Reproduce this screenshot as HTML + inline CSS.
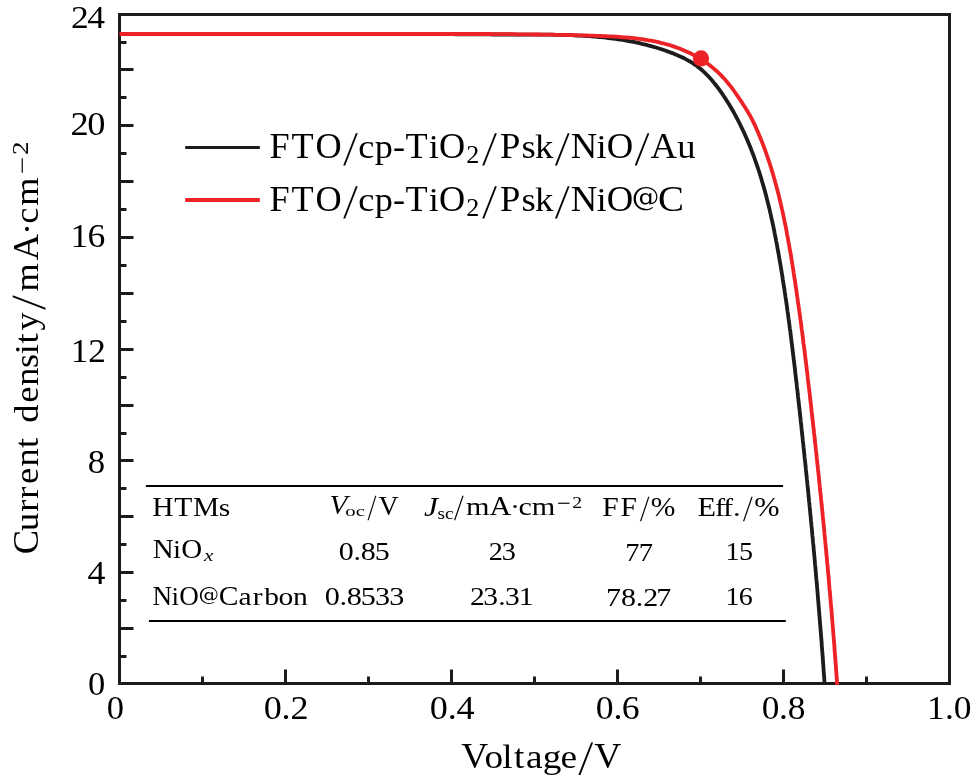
<!DOCTYPE html>
<html><head><meta charset="utf-8"><title>J-V curves</title>
<style>html,body{margin:0;padding:0;background:#fff;}svg{display:block;}</style></head>
<body>
<svg width="972" height="775" viewBox="0 0 972 775">
<rect width="972" height="775" fill="#fff"/>
<path d="M119.5,656.50H126.5M119.5,628.50H133.5M119.5,600.50H126.5M119.5,572.50H133.5M119.5,544.50H126.5M119.5,516.50H133.5M119.5,488.50H126.5M119.5,460.50H133.5M119.5,433.50H126.5M119.5,405.50H133.5M119.5,377.50H126.5M119.5,349.50H133.5M119.5,321.50H126.5M119.5,293.50H133.5M119.5,265.50H126.5M119.5,237.50H133.5M119.5,209.50H126.5M119.5,181.50H133.5M119.5,153.50H126.5M119.5,125.50H133.5M119.5,97.50H126.5M119.5,69.50H133.5M119.5,42.50H126.5M202.50,683.5V676.5M285.50,683.5V669.5M368.50,683.5V676.5M451.50,683.5V669.5M534.50,683.5V676.5M617.50,683.5V669.5M700.50,683.5V676.5M783.50,683.5V669.5M866.50,683.5V676.5" stroke="#1d1b1b" stroke-width="3" fill="none"/>
<rect x="119.5" y="14.5" width="830.0" height="669.0" fill="none" stroke="#1d1b1b" stroke-width="3"/>
<defs><clipPath id="cp"><rect x="118" y="13" width="833" height="672"/></clipPath></defs>
<g clip-path="url(#cp)" fill="none" stroke-linejoin="round" stroke-linecap="butt">
<path d="M119.5,34.2 L121.8,34.2 L124.3,34.2 L126.8,34.2 L129.2,34.2 L131.7,34.2 L134.2,34.2 L136.6,34.2 L139.1,34.2 L141.6,34.2 L144.0,34.2 L146.5,34.2 L149.0,34.2 L151.4,34.2 L153.9,34.2 L156.4,34.2 L158.8,34.2 L161.3,34.2 L163.7,34.2 L166.2,34.2 L168.7,34.2 L171.1,34.2 L173.6,34.2 L176.1,34.2 L178.5,34.2 L181.0,34.2 L183.4,34.2 L185.9,34.2 L188.4,34.2 L190.8,34.2 L193.3,34.2 L195.7,34.2 L198.2,34.2 L200.7,34.2 L203.1,34.2 L205.6,34.2 L208.0,34.2 L210.5,34.2 L212.9,34.2 L215.4,34.2 L217.9,34.2 L220.3,34.2 L222.8,34.2 L225.2,34.2 L227.7,34.2 L230.1,34.2 L232.6,34.2 L235.0,34.2 L237.5,34.2 L239.9,34.2 L242.4,34.2 L244.9,34.2 L247.3,34.2 L249.8,34.2 L252.2,34.2 L254.7,34.2 L257.1,34.2 L259.6,34.2 L262.0,34.2 L264.5,34.2 L266.9,34.2 L269.4,34.2 L271.8,34.2 L274.3,34.2 L276.7,34.2 L279.2,34.2 L281.6,34.2 L284.1,34.2 L286.5,34.2 L289.0,34.2 L291.4,34.2 L293.9,34.2 L296.4,34.2 L298.8,34.2 L301.3,34.2 L303.7,34.2 L306.2,34.2 L308.6,34.2 L311.1,34.2 L313.5,34.2 L316.0,34.2 L318.4,34.2 L320.9,34.2 L323.3,34.2 L325.8,34.2 L328.2,34.2 L330.7,34.2 L333.1,34.2 L335.6,34.2 L338.0,34.2 L340.5,34.2 L342.9,34.2 L345.4,34.2 L347.8,34.2 L350.3,34.2 L352.7,34.2 L355.2,34.2 L357.6,34.2 L360.1,34.2 L362.5,34.2 L365.0,34.2 L367.4,34.2 L369.9,34.2 L372.3,34.2 L374.8,34.2 L377.2,34.2 L379.7,34.2 L382.1,34.2 L384.6,34.2 L387.0,34.2 L389.5,34.2 L392.0,34.2 L394.4,34.2 L396.9,34.2 L399.3,34.2 L401.8,34.2 L404.2,34.2 L406.7,34.2 L409.1,34.2 L411.6,34.2 L414.0,34.2 L416.5,34.2 L418.9,34.2 L421.4,34.2 L423.9,34.2 L426.3,34.2 L428.8,34.2 L431.2,34.2 L433.7,34.2 L436.1,34.2 L438.6,34.2 L441.1,34.2 L443.5,34.2 L446.0,34.2 L448.4,34.2 L450.9,34.2 L453.3,34.2 L455.8,34.3 L458.3,34.3 L460.7,34.3 L463.2,34.3 L465.6,34.3 L468.1,34.3 L470.6,34.3 L473.0,34.3 L475.5,34.4 L477.9,34.4 L480.4,34.4 L482.9,34.4 L485.3,34.4 L487.8,34.4 L490.3,34.4 L492.7,34.5 L495.2,34.5 L497.7,34.5 L500.1,34.5 L502.6,34.5 L505.1,34.5 L507.5,34.5 L510.0,34.5 L512.5,34.6 L514.9,34.6 L517.4,34.6 L519.9,34.6 L522.3,34.6 L524.8,34.6 L527.3,34.6 L529.7,34.6 L532.2,34.6 L534.7,34.6 L537.2,34.6 L539.6,34.6 L542.1,34.6 L544.6,34.7 L547.0,34.7 L549.5,34.7 L552.0,34.7 L554.4,34.8 L556.9,34.8 L559.4,34.9 L561.8,34.9 L564.3,35.0 L566.7,35.1 L569.2,35.2 L571.7,35.2 L574.1,35.3 L576.6,35.5 L579.0,35.6 L581.5,35.7 L583.9,35.9 L586.4,36.0 L588.8,36.2 L591.3,36.3 L593.7,36.5 L596.1,36.7 L598.6,37.0 L601.0,37.2 L603.4,37.4 L605.9,37.7 L608.3,38.0 L610.7,38.3 L613.1,38.6 L615.5,38.9 L618.0,39.3 L620.4,39.6 L622.8,40.0 L625.2,40.4 L627.6,40.8 L630.0,41.3 L632.3,41.7 L634.7,42.2 L637.1,42.7 L639.5,43.2 L641.9,43.8 L644.2,44.3 L646.6,44.9 L649.0,45.6 L651.3,46.2 L653.7,46.9 L656.0,47.5 L658.3,48.3 L660.7,49.0 L663.0,49.8 L665.3,50.5 L667.6,51.4 L669.9,52.2 L672.3,53.1 L674.5,54.0 L676.8,54.9 L679.1,55.9 L681.3,56.9 L683.6,58.0 L685.7,59.1 L687.9,60.3 L690.0,61.5 L692.1,62.7 L694.1,64.1 L696.1,65.5 L698.1,66.9 L700.0,68.4 L701.8,70.0 L703.6,71.6 L705.4,73.3 L707.1,75.0 L708.8,76.8 L710.5,78.6 L712.1,80.5 L713.6,82.4 L715.2,84.3 L716.7,86.2 L718.2,88.2 L719.7,90.2 L721.1,92.2 L722.5,94.2 L723.9,96.3 L725.3,98.3 L726.6,100.4 L727.9,102.5 L729.2,104.6 L730.5,106.8 L731.8,108.9 L733.0,111.0 L734.2,113.2 L735.4,115.4 L736.6,117.6 L737.7,119.7 L738.8,121.9 L740.0,124.1 L741.0,126.4 L742.1,128.6 L743.2,130.8 L744.2,133.0 L745.2,135.3 L746.2,137.5 L747.2,139.8 L748.1,142.0 L749.1,144.3 L750.0,146.5 L750.9,148.8 L751.8,151.1 L752.7,153.4 L753.6,155.7 L754.4,158.0 L755.2,160.3 L756.0,162.6 L756.8,164.9 L757.6,167.2 L758.4,169.5 L759.2,171.8 L759.9,174.2 L760.6,176.5 L761.3,178.8 L762.0,181.2 L762.7,183.5 L763.4,185.9 L764.1,188.2 L764.7,190.6 L765.4,193.0 L766.0,195.3 L766.6,197.7 L767.2,200.1 L767.8,202.5 L768.4,204.8 L769.0,207.2 L769.6,209.6 L770.1,212.0 L770.7,214.4 L771.2,216.8 L771.7,219.2 L772.3,221.6 L772.8,224.0 L773.3,226.4 L773.8,228.8 L774.3,231.2 L774.7,233.6 L775.2,236.0 L775.7,238.4 L776.1,240.8 L776.6,243.2 L777.1,245.7 L777.5,248.1 L777.9,250.5 L778.4,252.9 L778.8,255.3 L779.2,257.8 L779.6,260.2 L780.1,262.6 L780.5,265.0 L780.9,267.4 L781.3,269.9 L781.7,272.3 L782.1,274.7 L782.5,277.1 L782.8,279.6 L783.2,282.0 L783.6,284.4 L784.0,286.9 L784.4,289.3 L784.7,291.7 L785.1,294.1 L785.4,296.6 L785.8,299.0 L786.2,301.4 L786.5,303.9 L786.9,306.3 L787.2,308.7 L787.5,311.2 L787.9,313.6 L788.2,316.0 L788.5,318.5 L788.9,320.9 L789.2,323.3 L789.5,325.8 L789.8,328.2 L790.2,330.6 L790.5,333.1 L790.8,335.5 L791.1,337.9 L791.4,340.4 L791.7,342.8 L792.0,345.2 L792.3,347.7 L792.6,350.1 L792.9,352.6 L793.2,355.0 L793.5,357.4 L793.8,359.9 L794.1,362.3 L794.4,364.8 L794.7,367.2 L795.0,369.6 L795.2,372.1 L795.5,374.5 L795.8,377.0 L796.1,379.4 L796.4,381.8 L796.7,384.3 L796.9,386.7 L797.2,389.2 L797.5,391.6 L797.8,394.0 L798.0,396.5 L798.3,398.9 L798.6,401.4 L798.8,403.8 L799.1,406.2 L799.4,408.7 L799.7,411.1 L799.9,413.6 L800.2,416.0 L800.5,418.4 L800.7,420.9 L801.0,423.3 L801.3,425.8 L801.5,428.2 L801.8,430.7 L802.0,433.1 L802.3,435.5 L802.6,438.0 L802.8,440.4 L803.1,442.9 L803.4,445.3 L803.6,447.7 L803.9,450.2 L804.1,452.6 L804.4,455.1 L804.6,457.5 L804.9,460.0 L805.2,462.4 L805.4,464.8 L805.7,467.3 L805.9,469.7 L806.2,472.2 L806.4,474.6 L806.7,477.1 L806.9,479.5 L807.2,481.9 L807.4,484.4 L807.7,486.8 L807.9,489.3 L808.2,491.7 L808.4,494.2 L808.6,496.6 L808.9,499.0 L809.1,501.5 L809.4,503.9 L809.6,506.4 L809.9,508.8 L810.1,511.3 L810.3,513.7 L810.6,516.1 L810.8,518.6 L811.0,521.0 L811.3,523.5 L811.5,525.9 L811.8,528.4 L812.0,530.8 L812.2,533.3 L812.4,535.7 L812.7,538.1 L812.9,540.6 L813.1,543.0 L813.4,545.5 L813.6,547.9 L813.8,550.4 L814.0,552.8 L814.3,555.3 L814.5,557.7 L814.7,560.2 L814.9,562.6 L815.1,565.0 L815.4,567.5 L815.6,569.9 L815.8,572.4 L816.0,574.8 L816.2,577.3 L816.4,579.7 L816.7,582.2 L816.9,584.6 L817.1,587.1 L817.3,589.5 L817.5,592.0 L817.7,594.4 L817.9,596.8 L818.1,599.3 L818.3,601.7 L818.5,604.2 L818.7,606.6 L818.9,609.1 L819.1,611.5 L819.3,614.0 L819.5,616.4 L819.7,618.9 L819.9,621.3 L820.1,623.8 L820.3,626.2 L820.5,628.7 L820.7,631.1 L820.9,633.6 L821.1,636.0 L821.3,638.5 L821.5,640.9 L821.7,643.4 L821.8,645.8 L822.0,648.3 L822.2,650.7 L822.4,653.2 L822.6,655.6 L822.8,658.1 L822.9,660.5 L823.1,663.0 L823.3,665.4 L823.5,667.9 L823.6,670.3 L823.8,672.8 L824.0,675.2 L824.2,677.7 L824.3,680.1 L824.5,682.6 L824.7,685.0" stroke="#1d1b1b" stroke-width="3.8"/>
<path d="M119.5,34.0 L122.0,34.0 L124.5,34.0 L127.0,34.0 L129.5,34.0 L131.9,34.0 L134.4,34.0 L136.9,34.0 L139.4,34.0 L141.9,34.0 L144.3,34.0 L146.8,34.0 L149.3,34.0 L151.8,34.0 L154.3,34.0 L156.8,34.0 L159.2,34.0 L161.7,34.0 L164.2,34.0 L166.7,34.0 L169.2,34.0 L171.6,34.0 L174.1,34.0 L176.6,34.0 L179.1,34.0 L181.6,34.0 L184.0,34.0 L186.5,34.0 L189.0,34.0 L191.5,34.0 L194.0,34.0 L196.5,34.0 L198.9,34.0 L201.4,34.0 L203.9,34.0 L206.4,34.0 L208.9,34.0 L211.4,34.0 L213.8,34.0 L216.3,34.0 L218.8,34.0 L221.3,34.0 L223.8,34.0 L226.3,34.0 L228.8,34.0 L231.2,34.0 L233.7,34.0 L236.2,34.0 L238.7,34.0 L241.2,34.0 L243.7,34.0 L246.1,34.0 L248.6,34.0 L251.1,34.0 L253.6,34.0 L256.1,34.0 L258.6,34.0 L261.1,34.0 L263.5,34.0 L266.0,34.0 L268.5,34.0 L271.0,34.0 L273.5,34.0 L276.0,34.0 L278.5,34.0 L280.9,34.0 L283.4,34.0 L285.9,34.0 L288.4,34.0 L290.9,34.0 L293.4,34.0 L295.9,34.0 L298.3,34.0 L300.8,34.0 L303.3,34.0 L305.8,34.0 L308.3,34.0 L310.8,34.0 L313.3,34.0 L315.7,34.0 L318.2,34.0 L320.7,34.0 L323.2,34.0 L325.7,34.0 L328.2,34.0 L330.7,34.0 L333.1,34.0 L335.6,34.0 L338.1,34.0 L340.6,34.0 L343.1,34.0 L345.6,34.0 L348.1,34.0 L350.5,34.0 L353.0,34.0 L355.5,34.0 L358.0,34.0 L360.5,34.0 L363.0,34.0 L365.5,34.0 L367.9,34.0 L370.4,34.0 L372.9,34.0 L375.4,34.0 L377.9,34.0 L380.4,34.0 L382.9,34.0 L385.3,34.0 L387.8,34.0 L390.3,34.0 L392.8,34.0 L395.3,34.0 L397.8,34.0 L400.2,34.0 L402.7,34.0 L405.2,34.0 L407.7,34.0 L410.2,34.0 L412.7,34.0 L415.2,34.0 L417.6,34.0 L420.1,34.0 L422.6,34.0 L425.1,34.0 L427.6,34.0 L430.1,34.0 L432.5,34.0 L435.0,34.0 L437.5,34.0 L440.0,34.0 L442.5,34.0 L445.0,34.0 L447.4,34.0 L449.9,34.0 L452.4,34.0 L454.9,34.0 L457.4,34.0 L459.8,34.0 L462.3,34.0 L464.8,34.0 L467.3,34.0 L469.8,34.0 L472.3,34.0 L474.7,34.0 L477.2,34.0 L479.7,34.0 L482.2,34.0 L484.7,34.0 L487.1,34.0 L489.6,34.0 L492.1,34.1 L494.6,34.1 L497.1,34.1 L499.5,34.1 L502.0,34.1 L504.5,34.2 L507.0,34.2 L509.4,34.2 L511.9,34.2 L514.4,34.2 L516.9,34.3 L519.4,34.3 L521.8,34.3 L524.3,34.4 L526.8,34.4 L529.3,34.4 L531.7,34.4 L534.2,34.5 L536.7,34.5 L539.2,34.5 L541.7,34.6 L544.1,34.6 L546.6,34.6 L549.1,34.7 L551.6,34.7 L554.1,34.7 L556.5,34.8 L559.0,34.8 L561.5,34.9 L564.0,34.9 L566.5,35.0 L569.0,35.0 L571.4,35.1 L573.9,35.2 L576.4,35.2 L578.9,35.3 L581.4,35.3 L583.9,35.4 L586.4,35.5 L588.9,35.6 L591.4,35.6 L593.9,35.7 L596.4,35.8 L598.9,35.9 L601.4,36.0 L603.9,36.1 L606.4,36.2 L608.9,36.3 L611.5,36.4 L614.0,36.6 L616.5,36.7 L619.0,36.9 L621.5,37.1 L624.0,37.3 L626.5,37.5 L629.0,37.7 L631.4,37.9 L633.9,38.2 L636.4,38.5 L638.9,38.8 L641.3,39.1 L643.8,39.5 L646.2,39.9 L648.7,40.3 L651.1,40.7 L653.5,41.2 L656.0,41.7 L658.4,42.2 L660.8,42.8 L663.2,43.3 L665.5,44.0 L667.9,44.6 L670.2,45.3 L672.6,46.1 L674.9,46.9 L677.2,47.7 L679.5,48.6 L681.8,49.5 L684.1,50.4 L686.3,51.4 L688.6,52.4 L690.8,53.5 L693.0,54.7 L695.2,55.8 L697.3,57.1 L699.4,58.3 L701.5,59.6 L703.6,61.0 L705.7,62.4 L707.7,63.8 L709.7,65.3 L711.6,66.8 L713.5,68.4 L715.4,70.0 L717.3,71.7 L719.1,73.4 L720.9,75.1 L722.6,76.9 L724.3,78.8 L725.9,80.6 L727.5,82.5 L729.1,84.5 L730.7,86.4 L732.2,88.4 L733.7,90.5 L735.1,92.5 L736.6,94.6 L738.0,96.6 L739.4,98.7 L740.8,100.8 L742.2,102.9 L743.5,105.0 L744.9,107.0 L746.2,109.2 L747.5,111.3 L748.7,113.4 L750.0,115.5 L751.1,117.7 L752.3,119.9 L753.4,122.1 L754.5,124.3 L755.5,126.6 L756.5,128.9 L757.5,131.1 L758.5,133.4 L759.4,135.7 L760.4,138.0 L761.3,140.3 L762.2,142.5 L763.1,144.9 L764.0,147.2 L764.8,149.5 L765.7,151.8 L766.5,154.1 L767.3,156.5 L768.1,158.8 L768.9,161.1 L769.7,163.5 L770.4,165.8 L771.2,168.2 L771.9,170.6 L772.6,172.9 L773.3,175.3 L774.0,177.7 L774.7,180.1 L775.3,182.5 L776.0,184.8 L776.6,187.2 L777.3,189.6 L777.9,192.0 L778.5,194.4 L779.1,196.8 L779.7,199.3 L780.3,201.7 L780.8,204.1 L781.4,206.5 L781.9,208.9 L782.5,211.4 L783.0,213.8 L783.5,216.2 L784.0,218.7 L784.5,221.1 L785.0,223.5 L785.5,226.0 L786.0,228.4 L786.5,230.9 L786.9,233.3 L787.4,235.8 L787.9,238.2 L788.3,240.7 L788.7,243.1 L789.2,245.6 L789.6,248.0 L790.0,250.5 L790.5,252.9 L790.9,255.4 L791.3,257.9 L791.7,260.3 L792.1,262.8 L792.5,265.2 L792.9,267.7 L793.3,270.2 L793.6,272.6 L794.0,275.1 L794.4,277.5 L794.8,280.0 L795.2,282.4 L795.5,284.9 L795.9,287.4 L796.3,289.8 L796.6,292.3 L797.0,294.7 L797.3,297.2 L797.7,299.7 L798.0,302.1 L798.4,304.6 L798.7,307.0 L799.1,309.5 L799.4,312.0 L799.8,314.4 L800.1,316.9 L800.4,319.3 L800.8,321.8 L801.1,324.3 L801.4,326.7 L801.7,329.2 L802.1,331.7 L802.4,334.1 L802.7,336.6 L803.0,339.0 L803.3,341.5 L803.6,344.0 L804.0,346.4 L804.3,348.9 L804.6,351.3 L804.9,353.8 L805.2,356.3 L805.5,358.7 L805.8,361.2 L806.1,363.6 L806.4,366.1 L806.7,368.6 L807.0,371.0 L807.3,373.5 L807.6,376.0 L807.8,378.4 L808.1,380.9 L808.4,383.4 L808.7,385.8 L809.0,388.3 L809.3,390.7 L809.6,393.2 L809.9,395.7 L810.1,398.1 L810.4,400.6 L810.7,403.1 L811.0,405.5 L811.3,408.0 L811.5,410.5 L811.8,412.9 L812.1,415.4 L812.4,417.9 L812.7,420.3 L812.9,422.8 L813.2,425.3 L813.5,427.7 L813.8,430.2 L814.0,432.7 L814.3,435.1 L814.6,437.6 L814.8,440.1 L815.1,442.5 L815.4,445.0 L815.7,447.5 L815.9,450.0 L816.2,452.4 L816.5,454.9 L816.7,457.4 L817.0,459.8 L817.2,462.3 L817.5,464.8 L817.8,467.2 L818.0,469.7 L818.3,472.2 L818.6,474.7 L818.8,477.1 L819.1,479.6 L819.3,482.1 L819.6,484.5 L819.8,487.0 L820.1,489.5 L820.3,492.0 L820.6,494.4 L820.9,496.9 L821.1,499.4 L821.4,501.8 L821.6,504.3 L821.9,506.8 L822.1,509.3 L822.4,511.7 L822.6,514.2 L822.8,516.7 L823.1,519.2 L823.3,521.6 L823.6,524.1 L823.8,526.6 L824.1,529.1 L824.3,531.5 L824.5,534.0 L824.8,536.5 L825.0,539.0 L825.2,541.4 L825.5,543.9 L825.7,546.4 L825.9,548.8 L826.2,551.3 L826.4,553.8 L826.6,556.3 L826.9,558.7 L827.1,561.2 L827.3,563.7 L827.6,566.2 L827.8,568.6 L828.0,571.1 L828.2,573.6 L828.5,576.1 L828.7,578.5 L828.9,581.0 L829.1,583.5 L829.3,586.0 L829.5,588.4 L829.8,590.9 L830.0,593.4 L830.2,595.9 L830.4,598.3 L830.6,600.8 L830.8,603.3 L831.0,605.8 L831.3,608.2 L831.5,610.7 L831.7,613.2 L831.9,615.7 L832.1,618.1 L832.3,620.6 L832.5,623.1 L832.7,625.6 L832.9,628.0 L833.1,630.5 L833.3,633.0 L833.5,635.5 L833.7,637.9 L833.9,640.4 L834.1,642.9 L834.3,645.4 L834.5,647.8 L834.6,650.3 L834.8,652.8 L835.0,655.3 L835.2,657.7 L835.4,660.2 L835.6,662.7 L835.8,665.2 L836.0,667.6 L836.1,670.1 L836.3,672.6 L836.5,675.1 L836.7,677.5 L836.8,680.0 L837.0,682.5 L837.2,685.0" stroke="#ed2226" stroke-width="3.8"/>
</g>
<circle cx="701" cy="58.4" r="8.1" fill="#ed2226"/>
<path d="M185.2,147.5H259.8" stroke="#1d1b1b" stroke-width="3"/>
<path d="M185.2,200H259.8" stroke="#ed2226" stroke-width="4"/>
<path d="M145.9,486H783.1M148.9,621H785.8" stroke="#000" stroke-width="2"/>
<g font-family="'Liberation Serif', 'DejaVu Serif', serif" font-size="100" fill="#000">
<text transform="translate(71.70,27.60) scale(0.3551,0.3240)" x="-2.28 44.11">24</text>
<text transform="translate(71.70,135.40) scale(0.3647,0.3376)" x="-3.50 42.89">20</text>
<text transform="translate(73.70,246.60) scale(0.3568,0.3406)" x="-9.09 38.86">16</text>
<text transform="translate(73.70,361.80) scale(0.3522,0.3285)" x="-8.14 41.37">12</text>
<text transform="translate(87.81,473.28) scale(0.3474,0.3345)">8</text>
<text transform="translate(87.54,584.00) scale(0.3584,0.3319)">4</text>
<text transform="translate(87.92,695.18) scale(0.3451,0.3331)">0</text>
<text transform="translate(106.82,718.99) scale(0.3451,0.3287)">0</text>
<text transform="translate(264.90,719.30) scale(0.3619,0.3346)" x="-3.14">0</text>
<text transform="translate(264.90,719.30) scale(0.3619,0.3329)" x="46.06">.</text>
<text transform="translate(264.90,719.30) scale(0.3619,0.3346)" x="71.04">2</text>
<text transform="translate(431.00,719.30) scale(0.3623,0.3346)" x="-3.14">0</text>
<text transform="translate(431.00,719.30) scale(0.3623,0.3329)" x="46.06">.</text>
<text transform="translate(431.00,719.30) scale(0.3623,0.3346)" x="70.26">4</text>
<text transform="translate(597.00,719.40) scale(0.3574,0.3361)" x="-3.19">0</text>
<text transform="translate(597.00,719.40) scale(0.3574,0.3344)" x="46.01">.</text>
<text transform="translate(597.00,719.40) scale(0.3574,0.3361)" x="69.42">6</text>
<text transform="translate(762.80,719.30) scale(0.3539,0.3346)" x="-3.20">0</text>
<text transform="translate(762.80,719.30) scale(0.3539,0.3329)" x="46.00">.</text>
<text transform="translate(762.80,719.30) scale(0.3539,0.3346)" x="70.19">8</text>
<text transform="translate(929.80,719.30) scale(0.3554,0.3346)" x="-7.85">1</text>
<text transform="translate(929.80,719.30) scale(0.3554,0.3329)" x="42.91">.</text>
<text transform="translate(929.80,719.30) scale(0.3554,0.3346)" x="67.11">0</text>
<text transform="translate(461.30,767.80) scale(0.3729,0.3588)" x="0.00">V</text>
<text transform="translate(461.30,767.80) scale(0.3729,0.3346)" x="62.07 109.71 141.17 173.73 218.55 266.21">oltage</text>
<text transform="translate(461.30,767.80) matrix(0.4177,0,-0.0498,0.4925,116.89,7.19)">/</text>
<text transform="translate(461.30,767.80) scale(0.3729,0.3588)" x="356.42">V</text>
<text transform="translate(38.00,553.60) rotate(-90) scale(0.3636,0.3567)" x="-2.01">C</text>
<text transform="translate(38.00,553.60) rotate(-90) scale(0.3636,0.3327)" x="62.14 115.38 150.59 191.33 239.91 290.13 341.18 360.15 415.21 461.59 510.75 548.12 577.55 613.92">urrent density</text>
<text transform="translate(38.00,553.60) rotate(-90) matrix(0.4073,0,-0.0485,0.4896,243.96,7.15)">/</text>
<text transform="translate(38.00,553.60) rotate(-90) scale(0.3636,0.3327)" x="720.88">m</text>
<text transform="translate(38.00,553.60) rotate(-90) scale(0.3636,0.3567)" x="806.79">A</text>
<text transform="translate(38.00,553.60) rotate(-90) scale(0.3636,0.3327)" x="876.11 906.99 956.87">·cm</text>
<text transform="translate(30.12,174.18) rotate(-90) scale(0.3157,0.2400)">−</text>
<text transform="translate(28.10,154.94) rotate(-90) scale(0.2702,0.2262)">2</text>
<text transform="translate(270.10,158.00) scale(0.3623,0.3515)" x="-1.56 59.39 125.46">FTO</text>
<text transform="translate(270.10,158.00) matrix(0.4059,0,-0.0483,0.4825,73.11,7.05)">/</text>
<text transform="translate(270.10,158.00) scale(0.3623,0.3279)" x="243.55 289.16 338.90">cp-</text>
<text transform="translate(270.10,158.00) scale(0.3623,0.3515)" x="373.82">T</text>
<text transform="translate(270.10,158.00) scale(0.3623,0.3279)" x="438.18">i</text>
<text transform="translate(270.10,158.00) scale(0.3623,0.3515)" x="466.12">O</text>
<text transform="translate(466.19,163.00) scale(0.2607,0.2470)">2</text>
<text transform="translate(270.10,210.50) scale(0.3623,0.3515)" x="-1.56 59.39 125.46">FTO</text>
<text transform="translate(270.10,210.50) matrix(0.4059,0,-0.0483,0.4825,73.11,7.05)">/</text>
<text transform="translate(270.10,210.50) scale(0.3623,0.3279)" x="243.55 289.16 338.90">cp-</text>
<text transform="translate(270.10,210.50) scale(0.3623,0.3515)" x="373.82">T</text>
<text transform="translate(270.10,210.50) scale(0.3623,0.3279)" x="438.18">i</text>
<text transform="translate(270.10,210.50) scale(0.3623,0.3515)" x="466.12">O</text>
<text transform="translate(466.19,215.50) scale(0.2607,0.2470)">2</text>
<text transform="translate(482.10,158.00) matrix(0.4107,0,-0.0489,0.4825,0.14,7.05)">/</text>
<text transform="translate(482.10,158.00) scale(0.3666,0.3515)" x="48.65">P</text>
<text transform="translate(482.10,158.00) scale(0.3666,0.3279)" x="107.17 144.41">sk</text>
<text transform="translate(482.10,158.00) matrix(0.4107,0,-0.0489,0.4825,72.87,7.05)">/</text>
<text transform="translate(482.10,158.00) scale(0.3666,0.3515)" x="241.70">N</text>
<text transform="translate(482.10,158.00) scale(0.3666,0.3279)" x="312.07">i</text>
<text transform="translate(482.10,158.00) scale(0.3666,0.3515)" x="340.01">O</text>
<text transform="translate(482.10,158.00) matrix(0.4107,0,-0.0489,0.4825,152.62,7.05)">/</text>
<text transform="translate(482.10,158.00) scale(0.3666,0.3515)" x="459.25">A</text>
<text transform="translate(482.10,158.00) scale(0.3666,0.3279)" x="532.57">u</text>
<text transform="translate(482.10,210.50) matrix(0.4106,0,-0.0489,0.4825,0.14,7.05)">/</text>
<text transform="translate(482.10,210.50) scale(0.3665,0.3515)" x="48.65">P</text>
<text transform="translate(482.10,210.50) scale(0.3665,0.3279)" x="107.17 144.41">sk</text>
<text transform="translate(482.10,210.50) matrix(0.4106,0,-0.0489,0.4825,72.85,7.05)">/</text>
<text transform="translate(482.10,210.50) scale(0.3665,0.3515)" x="241.70">N</text>
<text transform="translate(482.10,210.50) scale(0.3665,0.3279)" x="312.07">i</text>
<text transform="translate(482.10,210.50) scale(0.3665,0.3515)" x="340.01">O</text>
<text transform="translate(631.67,205.70) scale(0.2766,0.2560)" font-family="DejaVu Serif, serif">@</text>
<text transform="translate(657.98,210.50) scale(0.3891,0.3515)">C</text>
<text transform="translate(152.80,515.80) scale(0.2953,0.2631)" x="-1.56 72.56 136.59">HTM</text>
<text transform="translate(152.80,515.80) scale(0.2953,0.2454)" x="223.43">s</text>
<text transform="translate(329.62,514.39) scale(0.2947,0.2649)" font-style="italic">V</text>
<text transform="translate(345.25,516.46) scale(0.2077,0.1540)">oc</text>
<text transform="translate(367.30,515.00) matrix(0.2502,0,-0.0298,0.3683,0.26,5.38)">/</text>
<text transform="translate(367.30,515.00) scale(0.2791,0.2683)" x="39.90">V</text>
<text transform="translate(423.90,515.58) scale(0.3138,0.2694)" font-style="italic">J</text>
<text transform="translate(437.40,518.65) scale(0.1924,0.1600)">sc</text>
<text transform="translate(453.90,515.00) matrix(0.2707,0,-0.0322,0.3683,0.09,5.38)">/</text>
<text transform="translate(453.90,515.00) scale(0.3020,0.2503)" x="40.04">m</text>
<text transform="translate(453.90,515.00) scale(0.3020,0.2683)" x="117.84">A</text>
<text transform="translate(453.90,515.00) scale(0.3020,0.2503)" x="185.86 213.66 257.49">·cm</text>
<text transform="translate(557.05,511.12) scale(0.2453,0.2400)">−</text>
<text transform="translate(572.29,507.90) scale(0.1967,0.1756)">2</text>
<text transform="translate(602.80,515.80) scale(0.2954,0.2683)" x="-1.55 60.06">FF</text>
<text transform="translate(602.80,515.80) matrix(0.2647,0,-0.0315,0.3683,37.18,5.38)">/</text>
<text transform="translate(602.80,515.80) scale(0.2954,0.2683)" x="162.48">%</text>
<text transform="translate(698.00,515.80) scale(0.3038,0.2683)" x="-1.55">E</text>
<text transform="translate(698.00,515.80) scale(0.3038,0.2503)" x="55.95 82.08 115.09">ff.</text>
<text transform="translate(698.00,515.80) matrix(0.2723,0,-0.0324,0.3683,45.08,5.38)">/</text>
<text transform="translate(698.00,515.80) scale(0.3038,0.2683)" x="184.98">%</text>
<text transform="translate(152.90,558.30) scale(0.2900,0.2631)" x="-0.84">N</text>
<text transform="translate(152.90,558.30) scale(0.2900,0.2454)" x="69.53">i</text>
<text transform="translate(152.90,558.30) scale(0.2900,0.2631)" x="97.46">O</text>
<text transform="translate(204.03,560.90) scale(0.2119,0.1707)" font-style="italic">x</text>
<text transform="translate(339.70,560.30) scale(0.3002,0.2574)" x="-3.11">0</text>
<text transform="translate(339.70,560.30) scale(0.3002,0.2561)" x="46.08">.</text>
<text transform="translate(339.70,560.30) scale(0.3002,0.2574)" x="70.28 116.67">85</text>
<text transform="translate(489.40,560.30) scale(0.2816,0.2528)" x="-2.00 43.61">23</text>
<text transform="translate(626.80,560.50) scale(0.2844,0.2559)" x="-5.22 41.95">77</text>
<text transform="translate(727.60,560.40) scale(0.2815,0.2589)" x="-7.81 40.14">15</text>
<text transform="translate(152.90,604.90) scale(0.2715,0.2631)" x="-1.44">N</text>
<text transform="translate(152.90,604.90) scale(0.2715,0.2454)" x="68.92">i</text>
<text transform="translate(152.90,604.90) scale(0.2715,0.2631)" x="96.86">O</text>
<text transform="translate(198.52,601.00) scale(0.2046,0.1920)" font-family="DejaVu Serif, serif">@</text>
<text transform="translate(219.60,604.90) scale(0.2957,0.2631)" x="-3.12">C</text>
<text transform="translate(219.60,604.90) scale(0.2957,0.2454)" x="63.89 112.22 150.69 198.93 247.96">arbon</text>
<text transform="translate(325.60,605.30) scale(0.3021,0.2559)" x="-3.12">0</text>
<text transform="translate(325.60,605.30) scale(0.3021,0.2545)" x="46.07">.</text>
<text transform="translate(325.60,605.30) scale(0.3021,0.2559)" x="70.27 116.66 163.83 211.00">8533</text>
<text transform="translate(470.80,605.40) scale(0.2958,0.2574)" x="-3.12 42.48">23</text>
<text transform="translate(470.80,605.40) scale(0.2958,0.2561)" x="92.46">.</text>
<text transform="translate(470.80,605.40) scale(0.2958,0.2574)" x="115.88 162.27">31</text>
<text transform="translate(607.90,605.70) scale(0.3001,0.2589)" x="-6.25 43.27">78</text>
<text transform="translate(607.90,605.70) scale(0.3001,0.2576)" x="92.46">.</text>
<text transform="translate(607.90,605.70) scale(0.3001,0.2589)" x="117.44 161.49">27</text>
<text transform="translate(727.60,605.20) scale(0.2805,0.2574)" x="-7.73 40.22">16</text>
</g>
</svg>
</body></html>
